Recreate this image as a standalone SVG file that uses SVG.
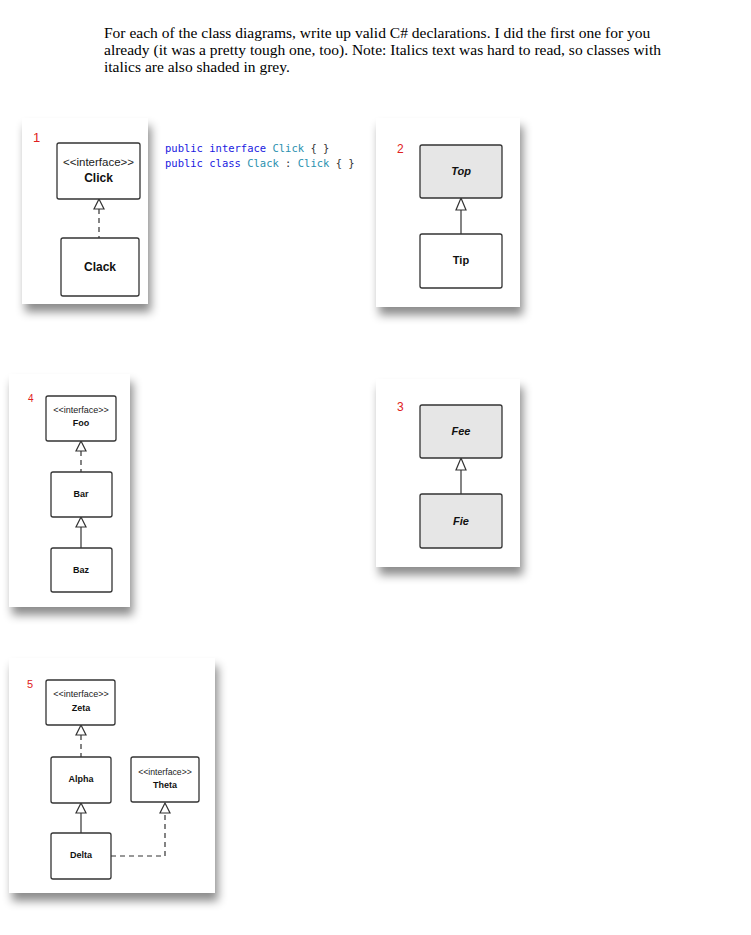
<svg xmlns="http://www.w3.org/2000/svg" width="751" height="935" viewBox="0 0 751 935">
<defs>
<filter id="sh" x="-20%" y="-20%" width="150%" height="150%"><feDropShadow dx="3" dy="8" stdDeviation="5" flood-color="#000" flood-opacity="0.45"/></filter>
<style>
.p{fill:#fff;filter:url(#sh)}
.b{fill:#fff;stroke:#333;stroke-width:1.3}
.g{fill:#e6e6e6;stroke:#333;stroke-width:1.3}
.t{font-family:"Liberation Sans",Arial,sans-serif;font-weight:bold;fill:#111;text-anchor:middle}
.s{font-family:"Liberation Sans",Arial,sans-serif;fill:#222;text-anchor:middle}
.n{font-family:"Liberation Sans",Arial,sans-serif;fill:#e02020}
.h{font-family:"Liberation Serif","Times New Roman",serif;font-size:15.5px;fill:#000}
.c{font-family:"DejaVu Sans Mono",monospace;font-size:10.5px}
.l{stroke:#333;stroke-width:1.2;fill:none}
.d{stroke-dasharray:5,4}
.a{fill:#fff;stroke:#333;stroke-width:1.2}
</style>
</defs>
<rect width="751" height="935" fill="#fff"/>
<text class="h" x="104" y="38">For each of the class diagrams, write up valid C# declarations. I did the first one for you</text>
<text class="h" x="104" y="55">already (it was a pretty tough one, too). Note: Italics text was hard to read, so classes with</text>
<text class="h" x="104" y="72">italics are also shaded in grey.</text>
<g id="panels">
<rect class="p" x="22" y="118" width="126" height="186"/>
<rect class="p" x="376" y="118" width="144" height="189"/>
<rect class="p" x="376" y="379" width="144" height="188"/>
<rect class="p" x="9" y="374" width="121" height="233"/>
<rect class="p" x="9" y="658" width="206" height="235"/>
</g>
<g id="code" class="c">
<text x="165" y="152"><tspan fill="#1a1adf">public interface </tspan><tspan fill="#2b91af">Click</tspan><tspan fill="#333"> { }</tspan></text>
<text x="165" y="167"><tspan fill="#1a1adf">public class </tspan><tspan fill="#2b91af">Clack</tspan><tspan fill="#333"> : </tspan><tspan fill="#2b91af">Click</tspan><tspan fill="#333"> { }</tspan></text>
</g>
<g id="labels" class="n">
<text x="33" y="142" font-size="13">1</text>
<text x="397" y="153" font-size="12">2</text>
<text x="397" y="411" font-size="12">3</text>
<text x="28" y="402" font-size="10">4</text>
<text x="27" y="688" font-size="11">5</text>
</g>
<g id="connectors">
<path class="l d" d="M99 209V238"/><path class="a" d="M99 199L94 209H104Z"/>
<path class="l" d="M461 210V234"/><path class="a" d="M461 198L456 210H466Z"/>
<path class="l" d="M461 470V494"/><path class="a" d="M461 458L456 470H466Z"/>
<path class="l d" d="M81 451V472"/><path class="a" d="M81 441L76 451H86Z"/>
<path class="l" d="M81 527V548"/><path class="a" d="M81 517L76 527H86Z"/>
<path class="l d" d="M81 735V757"/><path class="a" d="M81 725L76 735H86Z"/>
<path class="l" d="M81 813V833"/><path class="a" d="M81 803L76 813H86Z"/>
<path class="l d" d="M111 856H165V813"/><path class="a" d="M165 803L160 813H170Z"/>
</g>
<g id="Click"><rect class="b" x="57" y="143" width="83" height="56" rx="2"/><text class="s" x="98.5" y="166" font-size="11.5">&lt;&lt;interface&gt;&gt;</text><text class="t" x="98.5" y="182" font-size="12">Click</text></g>
<g id="Clack"><rect class="b" x="61" y="238" width="78" height="58" rx="2"/><text class="t" x="100" y="271" font-size="12">Clack</text></g>
<g id="Top"><rect class="g" x="420" y="145" width="82" height="53" rx="2"/><text class="t" x="461" y="175" font-size="11" font-style="italic">Top</text></g>
<g id="Tip"><rect class="b" x="420" y="234" width="82" height="54" rx="2"/><text class="t" x="461" y="264" font-size="11">Tip</text></g>
<g id="Fee"><rect class="g" x="420" y="405" width="82" height="53" rx="2"/><text class="t" x="461" y="435" font-size="11" font-style="italic">Fee</text></g>
<g id="Fie"><rect class="g" x="420" y="494" width="82" height="54" rx="2"/><text class="t" x="461" y="525" font-size="11" font-style="italic">Fie</text></g>
<g id="Foo"><rect class="b" x="46" y="396" width="70" height="45" rx="2"/><text class="s" x="81" y="413" font-size="9">&lt;&lt;interface&gt;&gt;</text><text class="t" x="81" y="426" font-size="9">Foo</text></g>
<g id="Bar"><rect class="b" x="51" y="472" width="61" height="45" rx="2"/><text class="t" x="81" y="497" font-size="9">Bar</text></g>
<g id="Baz"><rect class="b" x="51" y="548" width="61" height="44" rx="2"/><text class="t" x="81" y="573" font-size="9">Baz</text></g>
<g id="Zeta"><rect class="b" x="46" y="680" width="69" height="45" rx="2"/><text class="s" x="81" y="697" font-size="9">&lt;&lt;interface&gt;&gt;</text><text class="t" x="81" y="711" font-size="9">Zeta</text></g>
<g id="Alpha"><rect class="b" x="51" y="757" width="60" height="46" rx="2"/><text class="t" x="81" y="782" font-size="9">Alpha</text></g>
<g id="Theta"><rect class="b" x="131" y="757" width="68" height="45" rx="2"/><text class="s" x="165" y="775" font-size="8.7">&lt;&lt;interface&gt;&gt;</text><text class="t" x="165" y="788" font-size="9">Theta</text></g>
<g id="Delta"><rect class="b" x="51" y="833" width="60" height="46" rx="2"/><text class="t" x="81" y="858" font-size="9">Delta</text></g>
</svg>
